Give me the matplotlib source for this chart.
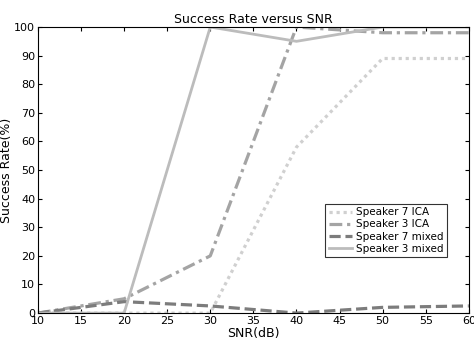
import matplotlib
matplotlib.use("Agg")
import matplotlib.pyplot as plt

snr = [10, 20, 30, 40, 50, 60]
spk7_ica = [0, 0, 0, 58, 89, 89]
spk3_ica = [0, 5, 20, 100, 98, 98]
spk7_mixed = [0, 4, 2.5, 0, 2, 2.5]
spk3_mixed = [0, 0, 100, 95, 100, 100]
labels = ["Speaker 7 ICA", "Speaker 3 ICA", "Speaker 7 mixed", "Speaker 3 mixed"]

fig = plt.figure(figsize=(4.74, 3.51), dpi=100)
ax = fig.add_axes([0.080, 0.108, 0.909, 0.815])

ax.plot(snr, spk7_ica, linestyle=(0, (1, 1.2)), color="#d0d0d0", lw=2.3, label=labels[0])
ax.plot(snr, spk3_ica, linestyle=(0, (4, 1.5, 1, 1.5)), color="#a4a4a4", lw=2.3, label=labels[1])
ax.plot(snr, spk7_mixed, linestyle=(0, (3.5, 1.5)), color="#7c7c7c", lw=2.3, label=labels[2])
ax.plot(snr, spk3_mixed, linestyle="-", color="#bcbcbc", lw=2.0, label=labels[3])

ax.set_xlim(10, 60)
ax.set_ylim(0, 100)
ax.set_xticks(range(10, 61, 5))
ax.set_yticks(range(0, 101, 10))
ax.tick_params(direction="in", labelsize=8, length=3, top=True, right=True, pad=2)
for s in ax.spines.values():
    s.set_linewidth(0.8)
ax.set_title("Success Rate versus SNR", fontsize=9, pad=3)
ax.set_xlabel("SNR(dB)", fontsize=9, labelpad=1)
ax.set_ylabel("Success Rate(%)", fontsize=9, labelpad=1)
leg = ax.legend(loc="lower right", bbox_to_anchor=(0.95, 0.195), fontsize=7.5, frameon=True,
                fancybox=False, edgecolor="black", handlelength=2.2, borderpad=0.35,
                labelspacing=0.2, handletextpad=0.4, borderaxespad=0)
leg.get_frame().set_linewidth(0.8)

fig.savefig("out.png", dpi=100)
